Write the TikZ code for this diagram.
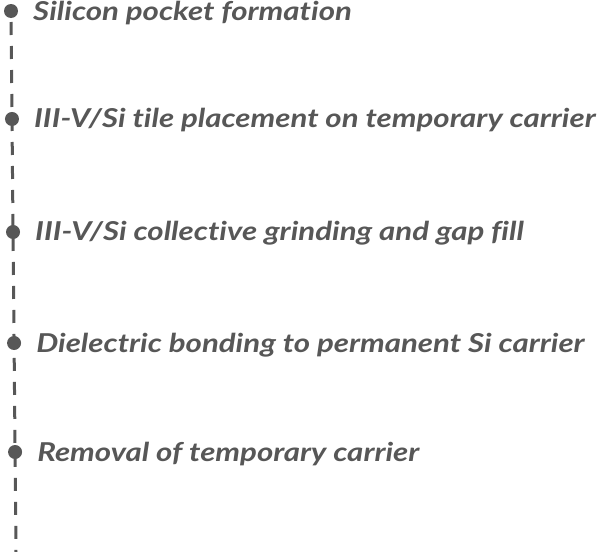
\documentclass[tikz,border=0pt]{standalone}
\usepackage{fontspec}
\usetikzlibrary{calc}
\newfontfamily\stepfont{Lato}[FakeStretch=1.2,Ligatures={NoCommon}]
\definecolor{stepgray}{HTML}{575757}

\begin{document}
\begin{tikzpicture}[
    x=1pt, y=-1pt,
    stepdot/.style={circle,fill=stepgray,minimum size=14pt,inner sep=0pt},
    steptext/.style={anchor=base west,inner sep=0pt,text=stepgray,
        font=\stepfont\bfseries\itshape\fontsize{26}{31}\selectfont},
    timeline/.style={stepgray,line width=3pt,dash pattern=on 13pt off 11pt,dash phase=13pt}
]
\useasboundingbox (0,0) rectangle (598,552);

% =========================
% TIMELINE
% =========================
\coordinate (top) at (11,11);
\coordinate (bottom) at (16,552);
\draw[timeline] (top) -- (bottom);

% =========================
% STEPS
% =========================
\foreach \i/\y/\label in {
    1/11/{Silicon pocket formation},
    2/119/{III-V/Si tile placement on temporary carrier},
    3/232/{III-V/Si collective grinding and gap fill},
    4/343/{Dielectric bonding to permanent Si carrier},
    5/452/{Removal of temporary carrier}}
{
    % dot on the line
    \node[stepdot] (s\i) at ($(top)!{(\y-11)/541}!(bottom)$) {};
    % label
    \node[steptext] (t\i) at ([xshift=22pt,yshift=-9pt]s\i.center) {\label};
}
\end{tikzpicture}
\end{document}
